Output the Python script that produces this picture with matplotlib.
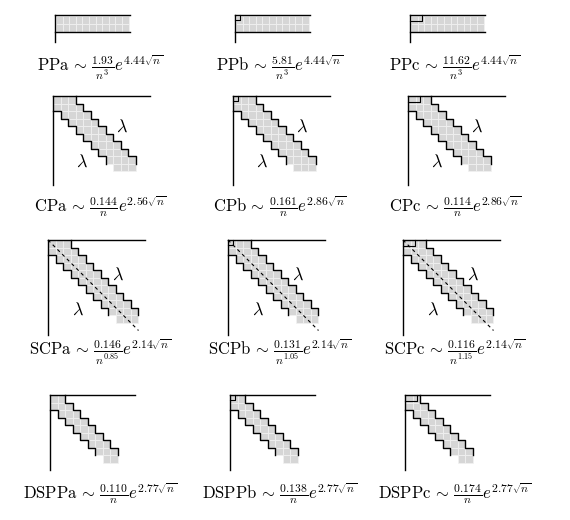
import matplotlib
matplotlib.use("Agg")
import matplotlib.pyplot as plt
from matplotlib.patches import Rectangle

plt.rcParams['mathtext.fontset'] = 'cm'

families = ["PP", "CP", "SCP", "DSPP"]
variants = ["a", "b", "c"]
coefs = [["1.93", "5.81", "11.62"],
         ["0.144", "0.161", "0.114"],
         ["0.146", "0.131", "0.116"],
         ["0.110", "0.138", "0.174"]]
powers = [["3", "3", "3"],
          ["", "", ""],
          ["0.85", "1.05", "1.15"],
          ["", "", ""]]
exps = [["4.44", "4.44", "4.44"],
        ["2.56", "2.86", "2.86"],
        ["2.14", "2.14", "2.14"],
        ["2.77", "2.77", "2.77"]]

col_x = [55, 235, 410]
row_y = [15, 96, 240, 395]
label_y = [68, 207, 352, 494]

fig = plt.figure(figsize=(5.7, 5.2), dpi=100)
ax = fig.add_axes([0, 0, 1, 1])
ax.set_xlim(0, 570)
ax.set_ylim(520, 0)
ax.axis('off')

G = '#d6d6d6'
s = 7.5
lw = 1.0

def cell(x, y, w=s, h=s):
    ax.add_patch(Rectangle((x, y), w, h, facecolor=G, edgecolor='#f2f2f2', lw=0.5))

def corner(ox, oy, v):
    if v == "b":
        ax.plot([ox, ox + 5, ox + 5], [oy + 5, oy + 5, oy], color='k', lw=0.8)
    elif v == "c":
        ax.plot([ox, ox + 12, ox + 12], [oy + 6, oy + 6, oy], color='k', lw=0.8)

def band(ox, oy, nrows, k, dashed=False, lam=None):
    for r in range(nrows):
        c0 = max(0, r - 1)
        c1 = r + k if r < nrows - 1 else r + k - 1
        for c in range(c0, c1):
            cell(ox + c * s, oy + r * s)
    xs, ys = [ox + k * s], [oy]
    for r in range(nrows - 2):
        x = ox + (k + r) * s
        xs += [x, x + s]; ys += [oy + (r + 1) * s, oy + (r + 1) * s]
    xs.append(xs[-1]); ys.append(ys[-1] + s)
    ax.plot(xs, ys, color='k', lw=lw)
    xs, ys = [ox], [oy + 2 * s]
    for r in range(2, nrows - 1):
        x = ox + (r - 1) * s
        xs += [x, x]; ys += [oy + r * s, oy + (r + 1) * s]
    ax.plot(xs, ys, color='k', lw=lw)
    if dashed:
        L = nrows * s + 8
        ax.plot([ox, ox + L], [oy, oy + L], color='k', lw=0.8, ls=(0, (3, 3)))
    if lam:
        for (dx, dy) in lam:
            ax.text(ox + dx, oy + dy, r'$\lambda$', fontsize=13, ha='center', va='center')

for i, fam in enumerate(families):
    for j, v in enumerate(variants):
        ox = col_x[j] - (2 if i == 1 else 7 if i == 2 else 5 if i == 3 else 0)
        oy = row_y[i]
        if fam == "PP":
            for r in range(2):
                for c in range(11):
                    cell(ox + 1 + c * 6.6, oy + 1 + r * 7.8, 6.6, 7.8)
            ax.plot([ox, ox + 75], [oy, oy], color='k', lw=lw)
            ax.plot([ox, ox + 75], [oy + 17, oy + 17], color='k', lw=lw)
            ax.plot([ox, ox], [oy, oy + 27], color='k', lw=lw)
        elif fam == "CP":
            band(ox, oy, 10, 3, lam=[(69, 31), (29, 66)])
            ax.plot([ox, ox + 97], [oy, oy], color='k', lw=lw)
            ax.plot([ox, ox], [oy, oy + 89], color='k', lw=lw)
        elif fam == "SCP":
            band(ox, oy, 11, 3, dashed=True, lam=[(70, 35), (30, 70)])
            ax.plot([ox, ox + 97], [oy, oy], color='k', lw=lw)
            ax.plot([ox, ox], [oy, oy + 95], color='k', lw=lw)
        else:
            band(ox, oy, 9, 2)
            ax.plot([ox, ox + 85], [oy, oy], color='k', lw=lw)
            ax.plot([ox, ox], [oy, oy + 75], color='k', lw=lw)
        corner(ox, oy, v)
        pw = powers[i][j]
        den = "n^{%s}" % pw if pw else "n"
        txt = r'$\mathrm{%s%s}\,\sim\,\frac{%s}{%s}e^{%s\sqrt{n}}$' % (fam, v, coefs[i][j], den, exps[i][j])
        ax.text(col_x[j] + 45, label_y[i], txt, fontsize=12, ha='center', va='center')

fig.savefig("out.png", dpi=100)
